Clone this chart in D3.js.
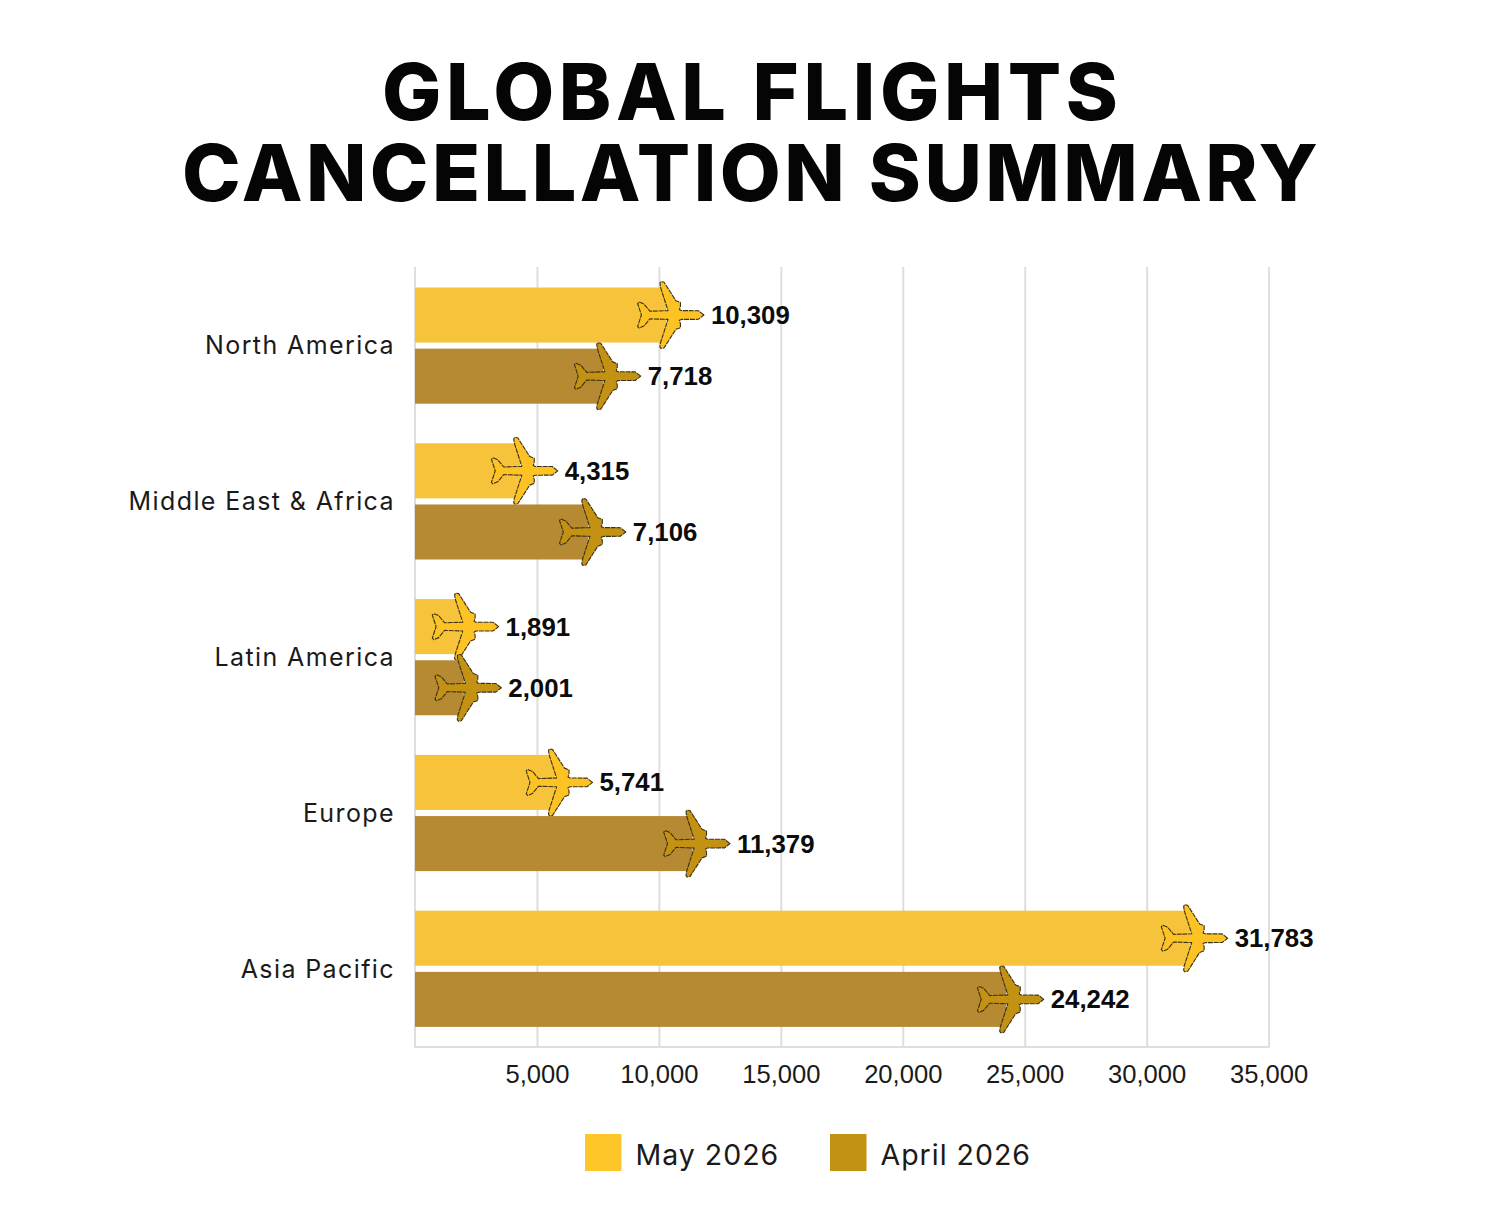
<!DOCTYPE html>
<html>
<head>
<meta charset="utf-8">
<script src="https://cdnjs.cloudflare.com/ajax/libs/d3/7.8.5/d3.min.js"></script>
<style>
html,body{margin:0;padding:0;background:#fff;}
svg{display:block;}
.title{font-family:Inter,sans-serif;font-weight:800;font-size:79px;fill:#050505;text-anchor:middle;}
.cat{font-family:Inter,sans-serif;font-weight:400;font-size:25px;fill:#1a1a1a;text-anchor:end;letter-spacing:1.4px;}
.val{font-family:"Liberation Sans",Arial,sans-serif;font-weight:700;font-size:25.8px;fill:#0c0c0c;}
.tick-label{font-family:"Liberation Sans",Arial,sans-serif;font-size:25.6px;fill:#1a1a1a;}
.leg{font-family:Inter,sans-serif;font-weight:400;font-size:28.5px;fill:#1a1a1a;letter-spacing:1px;}
</style>
</head>
<body>
<svg id="chart" width="1500" height="1231"></svg>
<script>
const titleLines = ["GLOBAL FLIGHTS", "CANCELLATION SUMMARY"];
const regions = ["North America", "Middle East & Africa", "Latin America", "Europe", "Asia Pacific"];
const seriesNames = ["May 2026", "April 2026"];
const may2026 = [10309, 4315, 1891, 5741, 31783];
const april2026 = [7718, 7106, 2001, 11379, 24242];
const xTicks = [5000, 10000, 15000, 20000, 25000, 30000, 35000];
const barColors = ["#f6c33b", "#b68a33"];
const planeColors = ["#fdc325", "#c49213"];
const swatchColors = ["#ffc629", "#c49213"];

const svg = d3.select("#chart");
const plotLeft = 415, plotRight = 1268.6, plotTop = 267, plotBottom = 1047;

const x = d3.scaleLinear().domain([0, 35000]).range([plotLeft, plotRight]);
const y = d3.scaleBand().domain(regions).range([plotTop + 0.5, plotBottom - 0.5]);
const groupPad = 20;
const inner = d3.scaleBand().domain(seriesNames)
  .range([groupPad, y.bandwidth() - groupPad + 0.4]).paddingInner(0.1).paddingOuter(0);

// Title, each line fitted to its set width
const titleWidths = [736, 1136];
svg.selectAll("text.title").data(titleLines).join("text")
  .attr("class", "title").attr("x", 750)
  .attr("y", (d, i) => 120 + i * 81)
  .attr("textLength", (d, i) => titleWidths[i]).attr("lengthAdjust", "spacing")
  .text(d => d);

// Gridlines and baseline frame
const axis = d3.axisBottom(x).tickValues(xTicks).tickSize(-(plotBottom - plotTop)).tickPadding(18)
  .tickFormat(d3.format(","));
const axisG = svg.append("g").attr("transform", `translate(0,${plotBottom})`).call(axis);
axisG.select(".domain").remove();
axisG.selectAll(".tick line").attr("stroke", "#dedede").attr("stroke-width", 2);
axisG.selectAll(".tick text").attr("class", "tick-label").attr("fill", null);
svg.append("line").attr("x1", plotLeft).attr("x2", plotLeft).attr("y1", plotTop).attr("y2", plotBottom)
  .attr("stroke", "#dedede").attr("stroke-width", 2);
svg.append("line").attr("x1", plotLeft - 1).attr("x2", plotRight + 1).attr("y1", plotBottom).attr("y2", plotBottom)
  .attr("stroke", "#dedede").attr("stroke-width", 2);

// Airliner silhouette, nose pointing right, origin at the end of the bar
const planePath = "M37.5,0 L32,-4.3 L15,-4.4 L13,-5.3 L14,-8.6 L14,-12.6 L9.5,-14.3 " +
  "L-2.5,-33 L-5.5,-33.4 L-6.5,-32 L-6,-28 L1.6,-4.4 L-16.5,-3.8 L-22.5,-11 L-27.3,-13 L-28.8,-11.5 L-25,0 " +
  "L-28.8,11.5 L-27.3,13 L-22.5,11 L-16.5,3.8 L1.6,4.4 L-6,28 L-6.5,32 L-5.5,33.4 L-2.5,33 L9.5,14.3 " +
  "L14,12.6 L14,8.6 L13,5.3 L15,4.4 L32,4.3 Z";

const rows = [may2026, april2026];
const groups = svg.selectAll("g.region").data(regions).join("g")
  .attr("class", "region")
  .attr("transform", d => `translate(0,${y(d)})`);

groups.append("text").attr("class", "cat")
  .attr("x", 395).attr("y", y.bandwidth() / 2 + 9).text(d => d);

seriesNames.forEach((name, s) => {
  const cell = groups.append("g").datum((d, i) => rows[s][i])
    .attr("transform", `translate(0,${inner(name)})`);
  cell.append("rect")
    .attr("x", plotLeft).attr("y", 0)
    .attr("width", d => x(d) - plotLeft)
    .attr("height", inner.bandwidth())
    .attr("fill", barColors[s]);
  cell.append("path")
    .attr("d", planePath)
    .attr("transform", d => `translate(${x(d)},${inner.bandwidth() / 2})`)
    .attr("fill", planeColors[s])
    .attr("stroke", "#3a3014").attr("stroke-width", 1.1)
    .attr("stroke-dasharray", "5 0.8").attr("stroke-linejoin", "round");
  cell.append("text").attr("class", "val")
    .attr("x", d => x(d) + 44.5)
    .attr("y", inner.bandwidth() / 2 + 9)
    .text(d => d3.format(",")(d));
});

// Legend
const legendX = [585, 830];
const leg = svg.selectAll("g.legend").data(seriesNames).join("g")
  .attr("class", "legend")
  .attr("transform", (d, i) => `translate(${legendX[i]},1134)`);
leg.append("rect").attr("width", 36.5).attr("height", 37)
  .attr("fill", (d, i) => swatchColors[i]);
leg.append("text").attr("class", "leg").attr("x", 50.5).attr("y", 31).text(d => d);
</script>
</body>
</html>
